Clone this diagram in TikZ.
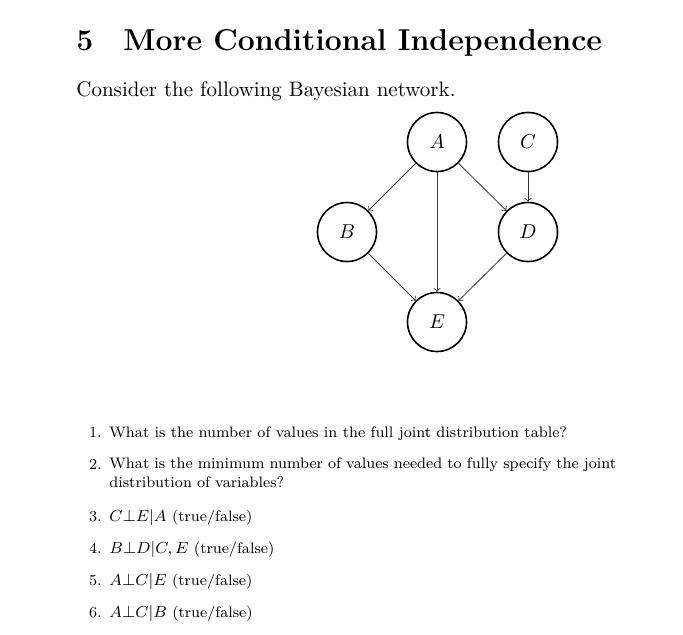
\documentclass[tikz,border=0pt]{standalone}
\usepackage{amssymb}
\begin{document}
\begin{tikzpicture}[x=0.5pt,y=-0.5pt,
 var/.style={circle,draw,thick,minimum size=29.5pt,inner sep=0pt,font=\fontsize{10}{12}\selectfont},
 edge/.style={->,draw=black!80},
 item/.style={anchor=base west,inner sep=0pt,font=\fontsize{7.6}{9.5}\selectfont},
 num/.style={anchor=base east,inner sep=0pt,font=\fontsize{7.6}{9.5}\selectfont}]
\useasboundingbox (0,0) rectangle (683,634);
\node[anchor=base west,inner sep=0pt,font=\fontsize{15.1}{18}\selectfont\bfseries] (h) at (76,50) {5\hspace{15pt}More Conditional Independence};
\node[anchor=base west,inner sep=0pt,font=\fontsize{10.5}{13}\selectfont] (t) at (76,96) {Consider the following Bayesian network.};
\node[var] (A) at (437,142) {$A$};
\node[var] (C) at (528,142) {$C$};
\node[var] (B) at (347,232) {$B$};
\node[var] (D) at (528,232) {$D$};
\node[var] (E) at (437,322) {$E$};
\draw[edge] (A) -- (B);
\draw[edge] (A) -- (D);
\draw[edge] (A) -- (E);
\draw[edge] (C) -- (D);
\draw[edge] (B) -- (E);
\draw[edge] (D) -- (E);
\node[num] (n1) at (102,437) {1.};
\node[item] (i1) at (109,437) {What is the number of values in the full joint distribution table?};
\node[num] (n2) at (102,469) {2.};
\node[item,text width=262pt,anchor=north west,align=left] (i2) at (109,457) {What is the minimum number of values needed to fully specify the joint distribution of variables?};
\node[num] (n3) at (102,521) {3.};
\node[item] (i3) at (109,521) {$C{\perp}E|A$ (true/false)};
\node[num] (n4) at (102,553) {4.};
\node[item] (i4) at (109,553) {$B{\perp}D|C,E$ (true/false)};
\node[num] (n5) at (102,585) {5.};
\node[item] (i5) at (109,585) {$A{\perp}C|E$ (true/false)};
\node[num] (n6) at (102,617) {6.};
\node[item] (i6) at (109,617) {$A{\perp}C|B$ (true/false)};
\end{tikzpicture}
\end{document}
